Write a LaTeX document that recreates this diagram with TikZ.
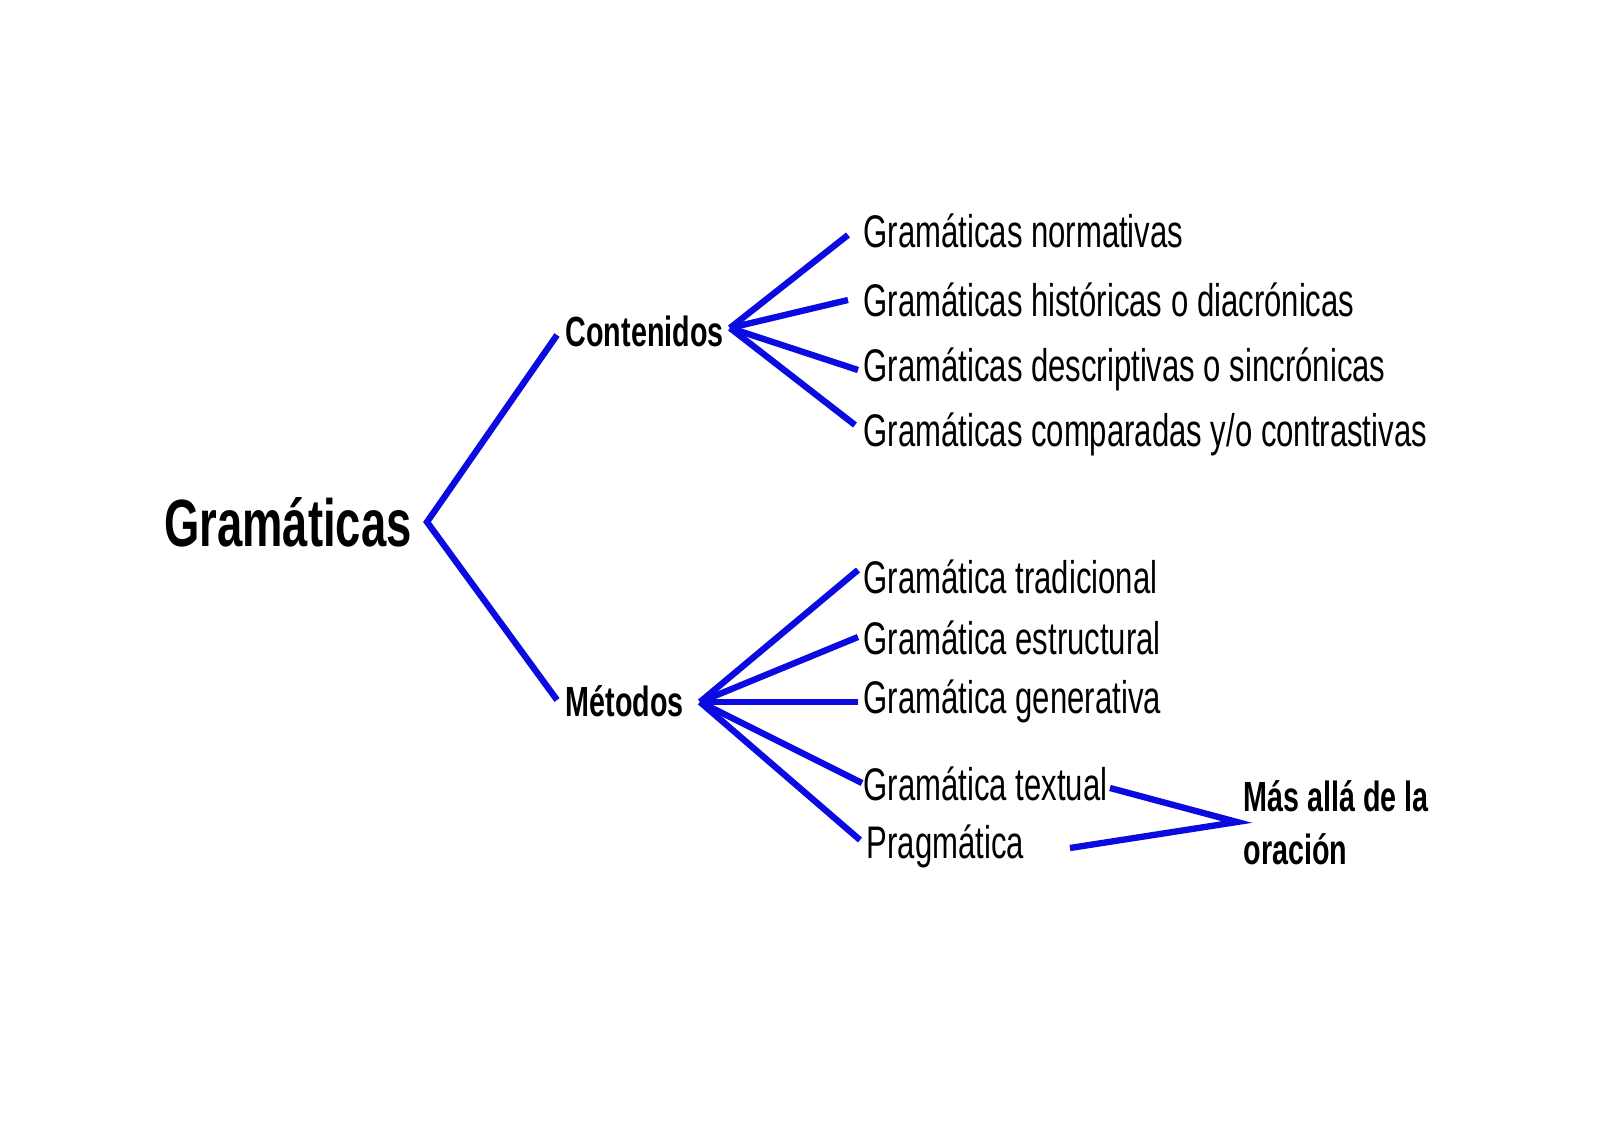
\documentclass[tikz,border=0pt]{standalone}
\usepackage{fontspec}
\setmainfont{Liberation Sans}[FakeStretch=0.68]
\begin{document}
\begin{tikzpicture}[x=0.01cm,y=-0.01cm,
  ln/.style={draw={rgb,255:red,10;green,10;blue,225},line width=1.8pt},
  leaf/.style={anchor=west,font=\fontsize{13}{15}\selectfont,inner sep=0pt},
  mid/.style={anchor=west,font=\bfseries\fontsize{12}{14}\selectfont,inner sep=0pt}]
\useasboundingbox (0,0) rectangle (1600,1131);
\node[font=\bfseries\fontsize{19}{24}\selectfont,inner sep=0pt] (g) at (288,522) {Gramáticas};
\coordinate (r) at (427,522);
\node[mid] (c) at (565,331) {Contenidos};
\node[mid] (m) at (565,701) {Métodos};
\coordinate (ca) at (557,335); \coordinate (ma) at (557,700);
\coordinate (ch) at (730,328); \coordinate (mh) at (700,702);
\draw[ln] (ca) -- (r) -- (ma);
\node[leaf] (cl1) at (863,231) {Gramáticas normativas};
\node[leaf] (cl2) at (863,300) {Gramáticas históricas o diacrónicas};
\node[leaf] (cl3) at (863,369) {Gramáticas descriptivas o sincrónicas};
\node[leaf] (cl4) at (863,434) {Gramáticas comparadas y/o contrastivas};
\coordinate (ce1) at (848,235); \coordinate (ce2) at (848,300);
\coordinate (ce3) at (858,370); \coordinate (ce4) at (855,425);
\foreach \n in {1,2,3,4}{\draw[ln] (ch) -- (ce\n);}
\node[leaf] (ml1) at (863,577) {Gramática tradicional};
\node[leaf] (ml2) at (863,638) {Gramática estructural};
\node[leaf] (ml3) at (863,701) {Gramática generativa};
\node[leaf] (ml4) at (863,784) {Gramática textual};
\node[leaf] (ml5) at (866,846) {Pragmática};
\coordinate (me1) at (858,570); \coordinate (me2) at (858,637);
\coordinate (me3) at (858,702); \coordinate (me4) at (862,783);
\coordinate (me5) at (860,840);
\foreach \n in {1,2,3,4,5}{\draw[ln] (mh) -- (me\n);}
\node[mid,anchor=north west,align=left,font=\bfseries\fontsize{12}{15}\selectfont] (ma2) at (1243,780) {Más allá de la\\oración};
\coordinate (j) at (1237,822);
\coordinate (t1) at (1110,788); \coordinate (p1) at (1070,848);
\draw[ln] (t1) -- (j) -- (p1);
\end{tikzpicture}
\end{document}
